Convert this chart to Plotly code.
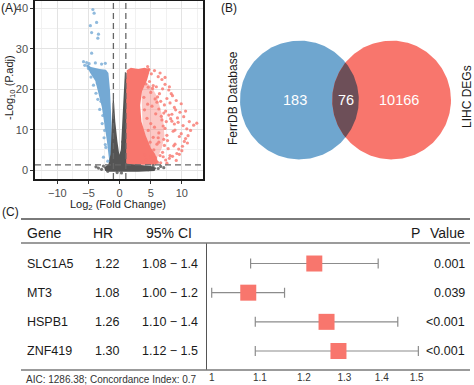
import numpy as np
import plotly.graph_objects as go

# ---------------- Panel A: volcano plot ----------------
# dense point clouds, given as outline polygons (log2 fold change, -log10 padj)
blue_core_x = [-5.4, -4.6, -3.2, -2.2, -1.8, -1.55, -1.3, -1.15, -1.15, -1.6, -1.8, -2.06, -2.86, -3.9, -4.8]
blue_core_y = [26.2, 25.5, 25.0, 24.8, 24.0, 19.8, 11.5, 4.0, 1.35, 1.35, 4.1, 7.4, 15.6, 22.0, 24.2]

red_core_x = [1.0, 1.0, 1.15, 1.8, 3.0, 4.0, 4.9, 4.4, 3.6, 3.3, 3.5, 4.2, 5.0, 5.7, 6.2, 5.8]
red_core_y = [1.35, 22.0, 24.7, 25.3, 25.0, 25.3, 24.9, 22.2, 19.5, 16.0, 12.0, 8.5, 5.5, 4.0, 2.0, 1.35]

red_halo_x = [3.5, 4.4, 5.2, 5.9, 6.5, 7.0, 7.2, 6.8, 6.2, 5.5, 4.6, 3.7]
red_halo_y = [20.0, 21.5, 20.5, 18.5, 15.5, 12.5, 8.5, 5.5, 3.5, 2.4, 4.5, 10.0]

grey_core_x = [-2.3, -2.5, -1.8, -1.45, -1.25, -1.1, -0.95, -0.7, -0.35, -0.05, 0.2, 0.45, 0.65, 0.85,
               1.05, 1.05, 3.0, 5.0, 5.9, 5.6, 3.0, 0.0, -1.5]
grey_core_y = [-0.2, 0.7, 1.4, 4.0, 11.5, 17.5, 18.0, 12.0, 7.0, 3.8, 5.0, 12.0, 19.5, 24.3,
               24.0, 1.6, 1.3, 1.0, 0.6, -0.2, -0.4, -0.5, -0.4]

# individual scattered genes
red_pts_x = [5.1, 5.6, 6.2, 4.7, 6.8, 7.3, 5.9, 7.9, 8.5, 9.1, 6.4, 7.6, 8.8, 9.7, 10.3, 11.2, 11.9, 12.4,
             10.8, 9.4, 8.2, 7.1, 8.6, 9.9, 10.6, 7.7, 8.9, 9.5, 6.9, 8.1, 5.4, 6.6, 4.3, 5.0, 7.4, 9.2,
             10.1, 6.0, 5.3, 4.8, 7.0, 8.4, 6.3, 3.9, 4.5,
             4.6, 5.0, 5.7, 4.5, 5.2, 6.3, 5.8, 4.4, 5.0, 6.8, 5.6, 4.6, 6.3, 7.3, 5.4, 6.0, 7.1, 4.9,
             6.5, 7.8, 8.4, 7.9, 8.8, 7.2, 6.1, 5.4, 4.2, 6.9, 8.3, 7.6, 8.0, 9.6, 10.9, 11.4, 9.9,
             10.6, 4.1, 5.8, 4.0, 3.9,
             6.6, 7.4, 8.1, 9.0, 9.3, 10.2, 8.9, 9.6, 10.4, 11.0, 7.0, 8.5, 9.1, 6.1, 7.6, 8.7, 10.0,
             6.7, 7.5, 6.2, 7.2, 5.5, 8.0, 7.3, 6.5]
red_pts_y = [23.8, 24.6, 23.1, 24.9, 22.4, 21.2, 20.6, 19.8, 18.4, 17.2, 18.9, 17.7, 15.5, 14.3, 13.2, 12.0,
             11.1, 11.6, 10.2, 11.8, 12.7, 14.1, 9.6, 9.0, 7.8, 7.3, 6.4, 5.2, 4.4, 3.6, 2.2, 1.8, 2.6,
             3.3, 2.5, 4.1, 5.9, 16.8, 20.2, 21.9, 10.9, 13.8, 6.9, 24.3, 25.6,
             20.5, 19.2, 17.6, 16.3, 15.8, 15.1, 13.9, 12.8, 11.5, 12.4, 10.6, 9.8, 9.2, 10.3, 8.1, 6.4,
             7.6, 6.9, 3.6, 5.3, 12.1, 13.6, 11.4, 16.1, 18.1, 20.9, 21.3, 20.1, 18.9, 8.6, 2.9, 3.9,
             6.7, 9.8, 16.4, 14.6, 3.8, 3.0, 14.9, 18.0,
             17.0, 14.6, 16.6, 14.9, 12.9, 11.0, 9.9, 8.3, 7.1, 8.5, 3.3, 3.4, 2.4, 1.9, 1.7, 6.0, 4.8,
             13.3, 12.0, 8.0, 6.1, 5.0, 20.6, 22.9, 24.0]

blue_pts_x = [-4.3, -4.1, -4.7, -3.7, -4.5, -3.4, -3.5, -4.5, -5.3, -5.6, -4.9, -3.9, -2.9, -2.3, -5.0,
              -4.4, -3.3, -3.0, -2.7, -2.4, -2.2, -3.6, -2.6, -1.9,
              -4.6, -4.2, -3.8, -3.5, -3.2, -2.8, -2.5, -2.3, -5.8, -5.1]
blue_pts_y = [39.7, 38.8, 35.7, 36.5, 34.0, 33.6, 32.6, 28.9, 26.6, 25.9, 26.3, 26.5, 26.2, 26.4, 25.1,
              24.2, 20.5, 17.0, 13.5, 9.8, 5.6, 21.5, 3.2, 2.2,
              23.0, 21.0, 19.0, 17.5, 15.0, 11.5, 8.0, 6.3, 26.8, 25.7]

grey_pts_x = [-3.4, -2.9, -2.6, -3.8, 6.2, 6.6, 5.4, 4.6, -1.9, 7.1, 0.3, -0.4, 0.5]
grey_pts_y = [0.5, 0.2, 1.0, 0.8, 0.4, 0.9, 1.1, 0.1, -0.3, 0.6, -0.7, -0.6, 7.0]

fc_cut = [-1, 1]
padj_cut = [1.3]

volc_xticks = [-10, -5, 0, 5, 10]
volc_xticktext = ["\u221210", "\u22125", "0", "5", "10"]
volc_yticks = [0, 10, 20, 30, 40]

# ---------------- Panel B: Venn ----------------
venn_sets = ["FerrDB Database", "LIHC DEGs"]
venn_counts = [183, 76, 10166]

# ---------------- Panel C: forest plot ----------------
genes = ["SLC1A5", "MT3", "HSPB1", "ZNF419"]
hr = [1.225, 1.075, 1.255, 1.285]
ci_low = [1.08, 1.00, 1.09, 1.09]
ci_high = [1.39, 1.155, 1.445, 1.505]
hr_text = ["1.22", "1.08", "1.26", "1.30"]
ci_text = ["1.08 \u2212 1.4", "1.00 \u2212 1.2", "1.10 \u2212 1.4", "1.12 \u2212 1.5"]
p_text = ["0.001", "0.039", "<0.001", "<0.001"]
forest_ticks = [1, 1.1, 1.2, 1.3, 1.4, 1.5]
forest_ticktext = ["1", "1.1", "1.2", "1.3", "1.4", "1.5"]
footer = "AIC: 1286.38; Concordance Index: 0.7"

# ---------------- styling ----------------
W, H = 474, 385
FONT = "Arial, Liberation Sans, sans-serif"
BLUE_PT = "#74A9D4"
RED_PT = "#F8766D"
GREY_PT = "#545454"
V_BLUE = "#6FA6CF"
V_RED = "#F8766D"
V_MID = "#6D4F58"


def px(x):
    return x / W


def py(y):
    return 1 - y / H


def closed(a):
    return list(a) + [a[0]]


fig = go.Figure()

# volcano: dense regions
for xs, ys, col, op in [(blue_core_x, blue_core_y, BLUE_PT, 1.0),
                        (red_halo_x, red_halo_y, RED_PT, 0.4),
                        (red_core_x, red_core_y, RED_PT, 1.0),
                        (grey_core_x, grey_core_y, GREY_PT, 1.0)]:
    fig.add_trace(go.Scatter(x=closed(xs), y=closed(ys), fill="toself", fillcolor=col, opacity=op,
                             mode="lines", line=dict(width=0, color=col), hoverinfo="skip",
                             showlegend=False, xaxis="x", yaxis="y"))

# volcano: scattered points
for xs, ys, col in [(blue_pts_x, blue_pts_y, BLUE_PT), (red_pts_x, red_pts_y, RED_PT),
                    (grey_pts_x, grey_pts_y, GREY_PT)]:
    fig.add_trace(go.Scatter(x=xs, y=ys, mode="markers",
                             marker=dict(size=3.2, color=col, opacity=0.8, line=dict(width=0)),
                             showlegend=False, hoverinfo="skip", xaxis="x", yaxis="y"))

# Venn circles (geometry)
r = 1.0
d = 0.776
theta = np.linspace(0, 2 * np.pi, 200)
for cx, col in [(-d, V_BLUE), (d, V_RED)]:
    fig.add_trace(go.Scatter(x=cx + r * np.cos(theta), y=r * np.sin(theta), fill="toself",
                             fillcolor=col, mode="lines", line=dict(width=0, color=col),
                             hoverinfo="skip", showlegend=False, xaxis="x2", yaxis="y2"))
th = np.arctan2(np.sqrt(r ** 2 - d ** 2), d)
a1 = np.linspace(-th, th, 60)
a2 = np.linspace(np.pi - th, np.pi + th, 60)
lens_x = np.concatenate([-d + r * np.cos(a1), d + r * np.cos(a2)])
lens_y = np.concatenate([r * np.sin(a1), r * np.sin(a2)])
fig.add_trace(go.Scatter(x=lens_x, y=lens_y, fill="toself", fillcolor=V_MID, mode="lines",
                         line=dict(width=0, color=V_MID), hoverinfo="skip", showlegend=False,
                         xaxis="x2", yaxis="y2"))

# forest plot
rows = list(range(len(genes)))
fig.add_trace(go.Scatter(
    x=hr, y=rows, mode="markers",
    marker=dict(symbol="square", size=16, color="#F8766D", line=dict(width=0)),
    error_x=dict(type="data", symmetric=False,
                 array=[h2 - h for h, h2 in zip(hr, ci_high)],
                 arrayminus=[h - l for h, l in zip(hr, ci_low)],
                 color="#8C8C8C", thickness=1.2, width=5),
    showlegend=False, hoverinfo="skip", xaxis="x3", yaxis="y3"))

ann = []


def text(x, y, s, size, color="#1a1a1a", xanchor="center", xref="paper", yref="paper", angle=0):
    ann.append(dict(x=x, y=y, xref=xref, yref=yref, text=s, showarrow=False, xanchor=xanchor,
                    yanchor="middle", textangle=angle, font=dict(family=FONT, size=size, color=color)))


# panel labels
text(px(9), py(8), "(A)", 12)
text(px(229), py(8), "(B)", 12)
text(px(10), py(212), "(C)", 12)

# volcano axis titles
text(px(118), py(205), "Log<sub>2</sub> (Fold Change)", 11)
text(px(10), py(88), "-Log<sub>10</sub> (P.adj)", 11, angle=-90)

# venn labels
for xv, s in zip([-0.85, 0.0, 0.9], venn_counts):
    text(xv, 0, str(s), 14.5, color="white", xref="x2", yref="y2")
text(px(233), py(98), venn_sets[0], 12, angle=-90)
text(px(467), py(97), venn_sets[1], 12, angle=-90)

# forest table
text(px(25), py(233), "Gene", 14, xanchor="left")
text(px(103), py(233), "HR", 14)
text(px(169), py(233), "95% CI", 14)
text(px(415), py(233), "P", 14)
text(px(467), py(233), "Value", 14, xanchor="right")
for i in rows:
    text(px(25), i, genes[i], 12.5, xanchor="left", yref="y3")
    text(px(107), i, hr_text[i], 12.5, yref="y3")
    text(px(170), i, ci_text[i], 12.5, yref="y3")
    text(px(467), i, p_text[i], 12.5, xanchor="right", yref="y3")
text(px(24), py(379), footer, 10, color="#333333", xanchor="left")

shapes = []
# threshold lines in volcano
for v in fc_cut:
    shapes.append(dict(type="line", xref="x", yref="y domain", x0=v, x1=v, y0=0, y1=1,
                       line=dict(color="#666666", width=1.3, dash="6px,4px")))
for v in padj_cut:
    shapes.append(dict(type="line", xref="x domain", yref="y", x0=0, x1=1, y0=v, y1=v,
                       line=dict(color="#666666", width=1.3, dash="6px,4px")))
# forest rules
for yy, wdt in [(219, 2), (243, 1.6), (370, 1.6)]:
    shapes.append(dict(type="line", xref="paper", yref="paper", x0=px(21), x1=px(470), y0=py(yy), y1=py(yy),
                       line=dict(color="#7A7A7A", width=wdt)))

fig.update_layout(
    width=W, height=H, margin=dict(l=0, r=0, t=0, b=0),
    paper_bgcolor="white", plot_bgcolor="white",
    font=dict(family=FONT),
    xaxis=dict(domain=[px(35), px(203)], range=[-13.6, 13.4], tickvals=volc_xticks,
               ticktext=volc_xticktext, showgrid=True, gridcolor="#E3E3E3", gridwidth=0.8,
               minor=dict(tickvals=[-12.5, -7.5, -2.5, 2.5, 7.5, 12.5], showgrid=True,
                          gridcolor="#F1F1F1", gridwidth=0.6),
               zeroline=False, showline=True, mirror=True, linecolor="#1a1a1a", linewidth=1.5,
               ticks="outside", ticklen=3, tickcolor="#333333",
               tickfont=dict(size=11, color="#4D4D4D"), anchor="y"),
    yaxis=dict(domain=[py(179), py(1)], range=[-2.2, 41.8], tickvals=volc_yticks,
               showgrid=True, gridcolor="#E3E3E3", gridwidth=0.8,
               minor=dict(tickvals=[5, 15, 25, 35], showgrid=True, gridcolor="#F1F1F1", gridwidth=0.6),
               zeroline=False, showline=True, mirror=True, linecolor="#1a1a1a", linewidth=1.5,
               ticks="outside", ticklen=3, tickcolor="#333333",
               tickfont=dict(size=11, color="#4D4D4D"), anchor="x"),
    xaxis2=dict(domain=[px(238), px(453)], range=[-1.81, 1.81], visible=False, anchor="y2"),
    yaxis2=dict(domain=[py(162), py(38)], range=[-1.044, 1.044], visible=False, anchor="x2"),
    xaxis3=dict(domain=[px(207), px(470)], type="log", range=[-0.00404, 0.2219],
                tickvals=forest_ticks, ticktext=forest_ticktext, ticks="", showgrid=False,
                zeroline=False, showline=False, tickfont=dict(size=10, color="#333333"), anchor="y3"),
    yaxis3=dict(domain=[py(370), py(243)], range=[3.651, -0.703], showticklabels=False,
                showgrid=False, zeroline=False, showline=True, linecolor="#555555", linewidth=1,
                ticks="", anchor="x3"),
    annotations=ann, shapes=shapes,
)

fig.write_html("out.html", config={"displayModeBar": False},
               post_script="document.body.style.margin='0px';")
